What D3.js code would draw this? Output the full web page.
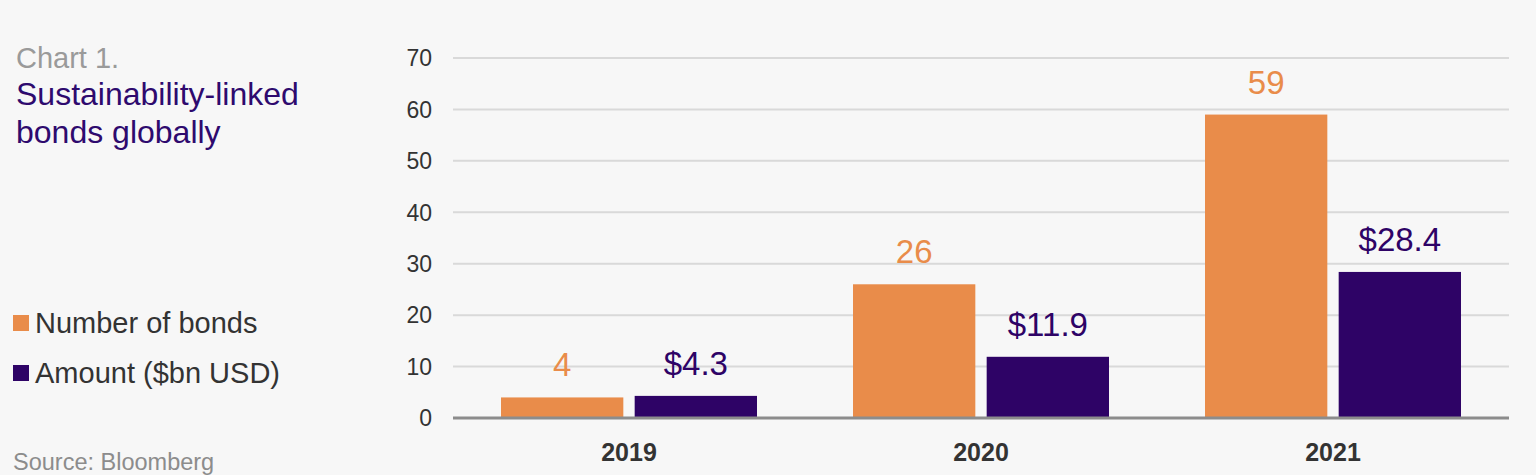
<!DOCTYPE html>
<html>
<head>
<meta charset="utf-8">
<script src="https://cdn.jsdelivr.net/npm/d3@7"></script>
<style>
  html, body { margin: 0; padding: 0; background: #f7f7f7; }
  svg { display: block; font-family: "Liberation Sans", Arial, sans-serif; }
</style>
</head>
<body>
<div id="graph"></div>
<script>
// chart values
const years = ["2019", "2020", "2021"];
const seriesNames = ["Number of bonds", "Amount ($bn USD)"];
const bondCounts = [4, 26, 59];
const amounts = [4.3, 11.9, 28.4];
const amountLabels = ["$4.3", "$11.9", "$28.4"];
const yTicks = [0, 10, 20, 30, 40, 50, 60, 70];

const colors = ["#e98c4a", "#2e0366"];

const width = 1536, height = 475;

const svg = d3.select("#graph")
  .append("svg")
  .attr("width", width)
  .attr("height", height);

svg.append("rect").attr("width", width).attr("height", height).attr("fill", "#f7f7f7");

// scales
const y = d3.scaleLinear().domain([0, 70]).range([418, 58]);
const x0 = d3.scaleBand().domain(years).range([453, 1509]).padding(0);
const x1 = d3.scaleBand().domain(seriesNames)
  .range([48, x0.bandwidth() - 48])
  .paddingInner(0.085);

// gridlines
svg.append("g")
  .selectAll("line")
  .data(yTicks.filter(d => d > 0))
  .join("line")
  .attr("x1", 453).attr("x2", 1509)
  .attr("y1", d => y(d)).attr("y2", d => y(d))
  .attr("stroke", "#d9d9d9")
  .attr("stroke-width", 2);

// y tick labels
svg.append("g")
  .selectAll("text")
  .data(yTicks)
  .join("text")
  .attr("x", 432)
  .attr("y", d => y(d))
  .attr("dy", "0.36em")
  .attr("text-anchor", "end")
  .attr("font-size", 23)
  .attr("fill", "#333")
  .text(d => d);

// rows of data for the bars
const rows = years.map((yr, i) => ({
  year: yr,
  values: [
    { series: seriesNames[0], value: bondCounts[i], label: String(bondCounts[i]) },
    { series: seriesNames[1], value: amounts[i], label: amountLabels[i] }
  ]
}));

const groups = svg.append("g")
  .selectAll("g")
  .data(rows)
  .join("g")
  .attr("transform", d => `translate(${x0(d.year)},0)`);

groups.selectAll("rect")
  .data(d => d.values)
  .join("rect")
  .attr("x", d => x1(d.series))
  .attr("width", x1.bandwidth())
  .attr("y", d => y(d.value))
  .attr("height", d => y(0) - y(d.value))
  .attr("fill", (d, i) => colors[i]);

// value labels over the bars
groups.selectAll("text")
  .data(d => d.values)
  .join("text")
  .attr("x", d => x1(d.series) + x1.bandwidth() / 2)
  .attr("y", d => y(d.value) - 21)
  .attr("text-anchor", "middle")
  .attr("font-size", 33)
  .attr("fill", (d, i) => colors[i])
  .text(d => d.label);

// baseline axis
svg.append("line")
  .attr("x1", 453).attr("x2", 1509)
  .attr("y1", y(0)).attr("y2", y(0))
  .attr("stroke", "#8c8c8c")
  .attr("stroke-width", 3);

// category labels
svg.append("g")
  .selectAll("text")
  .data(years)
  .join("text")
  .attr("x", d => x0(d) + x0.bandwidth() / 2)
  .attr("y", 461)
  .attr("text-anchor", "middle")
  .attr("font-size", 25)
  .attr("font-weight", "bold")
  .attr("fill", "#333")
  .text(d => d);

// title block
svg.append("text")
  .attr("x", 16).attr("y", 68)
  .attr("font-size", 29)
  .attr("fill", "#9a9a9a")
  .text("Chart 1.");
svg.append("text")
  .attr("x", 16).attr("y", 105)
  .attr("font-size", 32)
  .attr("fill", "#2e0a6e")
  .text("Sustainability-linked");
svg.append("text")
  .attr("x", 16).attr("y", 143)
  .attr("font-size", 32)
  .attr("fill", "#2e0a6e")
  .text("bonds globally");

// legend
const legend = svg.append("g")
  .selectAll("g")
  .data(seriesNames)
  .join("g")
  .attr("transform", (d, i) => `translate(13,${323 + i * 50})`);

legend.append("rect")
  .attr("x", 0).attr("y", -8)
  .attr("width", 16).attr("height", 16)
  .attr("fill", (d, i) => colors[i]);

legend.append("text")
  .attr("x", 22)
  .attr("y", 0)
  .attr("dy", "0.36em")
  .attr("font-size", 29)
  .attr("fill", "#333")
  .text(d => d);

// source note
svg.append("text")
  .attr("x", 13).attr("y", 470)
  .attr("font-size", 23.5)
  .attr("fill", "#8c8c8c")
  .text("Source: Bloomberg");
</script>
</body>
</html>
